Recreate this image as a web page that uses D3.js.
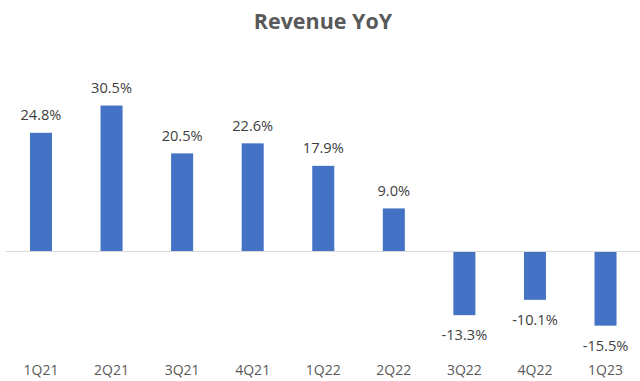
<!DOCTYPE html>
<html>
<head>
<meta charset="utf-8">
<script src="https://cdn.jsdelivr.net/npm/d3@7"></script>
<style>
  html, body { margin: 0; padding: 0; background: #fff; }
  svg { display: block; }
</style>
</head>
<body>
<svg id="chart" width="640" height="381"></svg>
<script>
const categories = ["1Q21", "2Q21", "3Q21", "4Q21", "1Q22", "2Q22", "3Q22", "4Q22", "1Q23"];
const values = [24.8, 30.5, 20.5, 22.6, 17.9, 9.0, -13.3, -10.1, -15.5];
const title = "Revenue YoY";

const svg = d3.select("#chart");
const font = "'Open Sans', 'Noto Sans', sans-serif";

const x = d3.scaleBand()
  .domain(categories)
  .range([5.7, 640.8])
  .paddingInner(0.688)
  .paddingOuter(0.344);

const y = d3.scaleLinear()
  .domain([-20, 35])
  .range([347.2, 84]);

// title
svg.append("text")
  .attr("x", 323)
  .attr("y", 29)
  .attr("text-anchor", "middle")
  .attr("font-family", font)
  .attr("font-weight", "bold")
  .attr("font-size", 21.5)
  .attr("fill", "#595959")
  .text(title);

// bars
svg.append("g").selectAll("rect")
  .data(values)
  .join("rect")
  .attr("x", (d, i) => x(categories[i]))
  .attr("width", x.bandwidth())
  .attr("y", d => Math.min(y(d), y(0)))
  .attr("height", d => Math.abs(y(d) - y(0)))
  .attr("fill", "#4472C4");

// zero axis line
svg.append("line")
  .attr("x1", 6).attr("x2", 640)
  .attr("y1", y(0)).attr("y2", y(0))
  .attr("stroke", "#d9d9d9")
  .attr("stroke-width", 1);

// value labels
svg.append("g").selectAll("text")
  .data(values)
  .join("text")
  .attr("x", (d, i) => x(categories[i]) + x.bandwidth() / 2)
  .attr("y", d => d >= 0 ? y(d) - 12.5 : y(d) + 25)
  .attr("text-anchor", "middle")
  .attr("font-family", font)
  .attr("font-size", 14.6)
  .attr("fill", "#404040")
  .text(d => d.toFixed(1) + "%");

// category axis labels
const xAxis = d3.axisBottom(x).tickSize(0).tickPadding(0);
const gx = svg.append("g")
  .attr("transform", "translate(0,361)")
  .call(xAxis);
gx.select(".domain").remove();
gx.selectAll("text")
  .attr("font-family", font)
  .attr("font-size", 14)
  .attr("fill", "#595959")
  .attr("dy", "1em");
</script>
</body>
</html>
